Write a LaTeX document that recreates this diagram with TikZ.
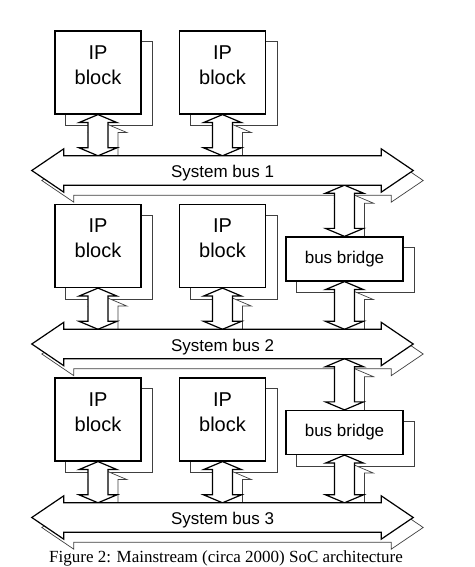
\documentclass[tikz,border=0pt]{standalone}
\usepackage{fontspec}
\newfontfamily\labelfont{Liberation Sans}
\newfontfamily\capfont{Liberation Serif}
\usetikzlibrary{calc,shadows}
\pgfdeclarelayer{shade}
\pgfdeclarelayer{link}
\pgfdeclarelayer{outline}
\pgfsetlayers{shade,link,outline,main}

\tikzset{
  ipblock/.style={draw, fill=white, line width=1.2pt, minimum width=86pt, minimum height=83pt,
    inner sep=0pt, align=center, font=\labelfont\fontsize{20}{25}\selectfont, text depth=15.7pt},
  bridgebox/.style={draw, fill=white, line width=1.2pt, minimum width=117pt, minimum height=44pt,
    inner sep=0pt, font=\labelfont\fontsize{17}{20}\selectfont},
  busbar/.style={minimum width=317pt, minimum height=29pt, inner sep=0pt,
    font=\labelfont\fontsize{17}{20}\selectfont, text height=15pt, text depth=0pt},
  busline/.style={draw, fill=white, line width=1.2pt},
  shadowline/.style={draw=black!75, fill=white, line width=0.7pt},
  boxshadow/.style={shadowline, transform canvas={shift={(11pt,-11pt)}}},
  busshadow/.style={shadowline, transform canvas={shift={(10pt,-10pt)}}},
  linkarrow/.style={draw, fill=white, line width=1.2pt,
    drop shadow={shadow xshift=10pt, shadow yshift=-10pt, opacity=1, fill=white, draw=black!75, line width=0.7pt}},
  capstyle/.style={font=\capfont\fontsize{17}{20}\selectfont, inner sep=0pt}
}

% fat double arrow between two points (same x)
\newcommand{\fatarrow}[2]{%
  \coordinate (T) at (#1);
  \coordinate (B) at (#2);
  \path[linkarrow] (T) -- ($(T)+(19,-8)$) -- ($(T)+(10,-8)$) -- ($(B)+(10,8)$) -- ($(B)+(19,8)$)
    -- (B) -- ($(B)+(-19,8)$) -- ($(B)+(-10,8)$) -- ($(T)+(-10,-8)$) -- ($(T)+(-19,-8)$) -- cycle;}

% outline of a bus round its text node
\newcommand{\busshape}[2]{%
  \path[#1] (#2.north west) -- (#2.north east) -- ($(#2.north east)+(0,7)$) -- ($(#2.east)+(32,0)$)
    -- ($(#2.south east)+(0,-7)$) -- (#2.south east) -- (#2.south west) -- ($(#2.south west)+(0,-7)$)
    -- ($(#2.west)+(-32,0)$) -- ($(#2.north west)+(0,7)$) -- cycle;}

\begin{document}
\begin{tikzpicture}[x=1pt,y=1pt]
\useasboundingbox (0,0) rectangle (474,567);

% row 1
\node[ipblock] (ip11) at (98,494.5) {IP\\block};
\node[ipblock] (ip12) at (222.5,494.5) {IP\\block};
\node[busbar] (bus1) at (222.5,396.5) {System bus 1};

% row 2
\node[ipblock] (ip21) at (98,321) {IP\\block};
\node[ipblock] (ip22) at (222.5,321) {IP\\block};
\node[bridgebox] (bridge2) at (344.5,308) {bus bridge};
\node[busbar] (bus2) at (222.5,223) {System bus 2};

% row 3
\node[ipblock] (ip31) at (98,147.5) {IP\\block};
\node[ipblock] (ip32) at (222.5,147.5) {IP\\block};
\node[bridgebox] (bridge3) at (344.5,134.5) {bus bridge};
\node[busbar] (bus3) at (222.5,49.5) {System bus 3};

% caption
\node[capstyle, anchor=base] (caption) at (226,4.2) {Figure 2: Mainstream (circa 2000) SoC architecture};

% shadows
\begin{pgfonlayer}{shade}
\foreach \n in {ip11,ip12,ip21,ip22,ip31,ip32,bridge2,bridge3}
  {\path[boxshadow] (\n.north west) rectangle (\n.south east);}
\foreach \n in {bus1,bus2,bus3}
  {\busshape{busshadow}{\n}}
\end{pgfonlayer}

% the buses
\begin{pgfonlayer}{outline}
\foreach \n in {bus1,bus2,bus3}
  {\busshape{busline}{\n}}
\end{pgfonlayer}

% connectors
\begin{pgfonlayer}{link}
\fatarrow{ip11.south}{ip11.south|-bus1.north}
\fatarrow{ip12.south}{ip12.south|-bus1.north}
\fatarrow{bridge2.north|-bus1.south}{bridge2.north}
\fatarrow{ip21.south}{ip21.south|-bus2.north}
\fatarrow{ip22.south}{ip22.south|-bus2.north}
\fatarrow{bridge2.south}{bridge2.south|-bus2.north}
\fatarrow{bridge3.north|-bus2.south}{bridge3.north}
\fatarrow{ip31.south}{ip31.south|-bus3.north}
\fatarrow{ip32.south}{ip32.south|-bus3.north}
\fatarrow{bridge3.south}{bridge3.south|-bus3.north}
\end{pgfonlayer}
\end{tikzpicture}
\end{document}
